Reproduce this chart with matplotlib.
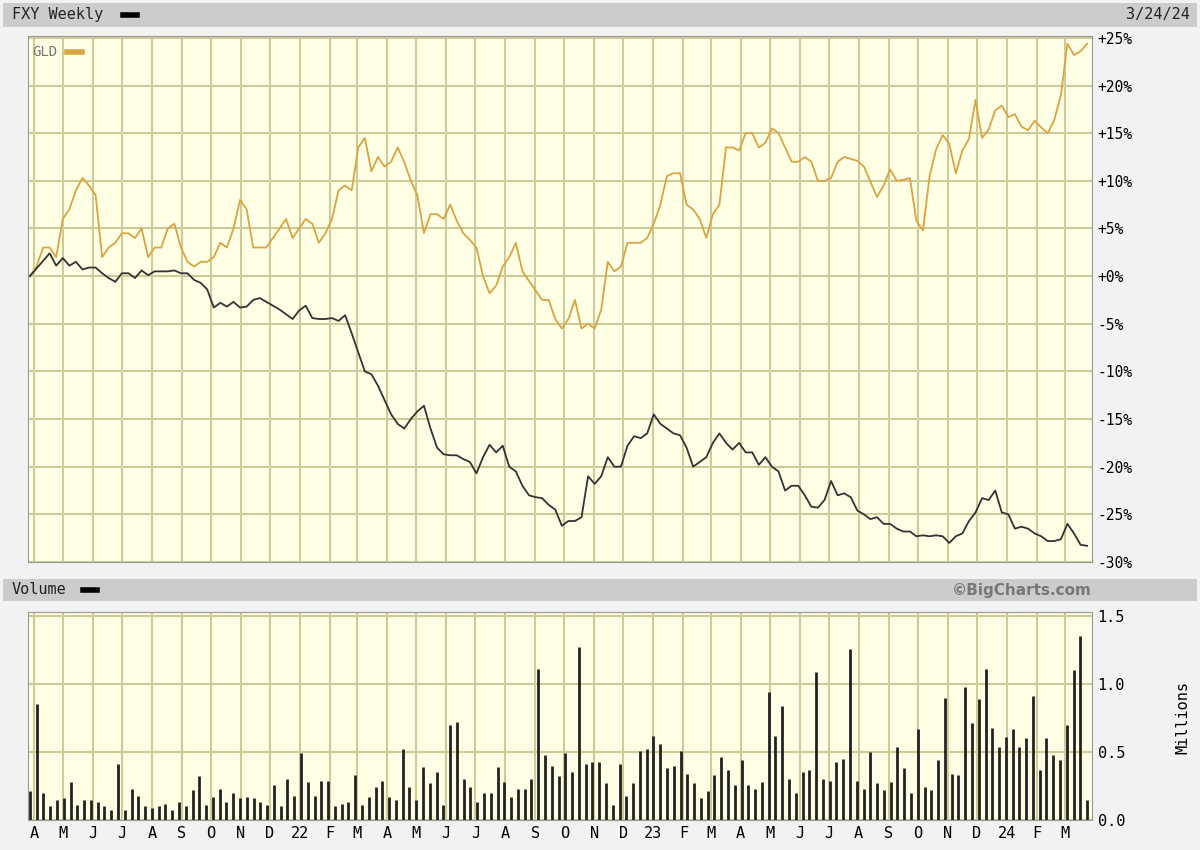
import matplotlib
matplotlib.use("Agg")
import matplotlib.pyplot as plt
import numpy as np
import pandas as pd

# weekly % change
gld = [0, 1, 3, 3, 2, 6, 7, 9, 10.3, 9.5,
       8.5, 2, 3, 3.5, 4.5, 4.5, 4, 5, 2, 3,
       3, 5, 5.5, 3, 1.5, 1, 1.5, 1.5, 2, 3.5,
       3, 5, 8, 7, 3, 3, 3, 4, 5, 6,
       4, 5, 6, 5.5, 3.5, 4.5, 6, 9, 9.5, 9,
       13.5, 14.5, 11, 12.5, 11.5, 12, 13.5, 12, 10, 8.5,
       4.5, 6.5, 6.5, 6, 7.5, 5.8, 4.5, 3.8, 3, 0,
       -1.8, -1, 1, 2, 3.5, 0.5, -0.5, -1.5, -2.5, -2.5,
       -4.5, -5.5, -4.5, -2.5, -5.5, -5, -5.5, -3.5, 1.5, 0.5,
       1, 3.5, 3.5, 3.5, 4, 5.5, 7.5, 10.5, 10.8, 10.8,
       7.5, 7, 6, 4, 6.5, 7.5, 13.5, 13.5, 13.2, 15,
       15, 13.5, 14, 15.5, 15, 13.5, 12, 12, 12.5, 12,
       10, 10, 10.3, 12, 12.5, 12.3, 12.1, 11.5, 9.9, 8.3,
       9.5, 11.2, 10, 10.1, 10.3, 5.8, 4.8, 10.5, 13.3, 14.8,
       13.9, 10.8, 13.2, 14.4, 18.5, 14.5, 15.4, 17.4, 17.9, 16.7,
       17, 15.7, 15.3, 16.3, 15.6, 15, 16.4, 19, 24.4, 23.2,
       23.6, 24.4]

fxy = [0, 0.8, 1.6, 2.4, 1.1, 1.9, 1.1, 1.5, 0.7, 0.9,
       0.9, 0.3, -0.2, -0.6, 0.3, 0.3, -0.2, 0.6, 0.1, 0.5,
       0.5, 0.5, 0.6, 0.3, 0.3, -0.4, -0.7, -1.4, -3.3, -2.8,
       -3.2, -2.7, -3.3, -3.2, -2.5, -2.3, -2.7, -3.1, -3.5, -4,
       -4.5, -3.6, -3.1, -4.4, -4.5, -4.5, -4.4, -4.7, -4.1, -6,
       -8, -10, -10.3, -11.5, -13, -14.5, -15.5, -16, -15, -14.2,
       -13.6, -16, -18, -18.7, -18.8, -18.8, -19.2, -19.5, -20.7, -19,
       -17.7, -18.5, -17.8, -20, -20.5, -22, -23, -23.2, -23.3, -24,
       -24.5, -26.2, -25.7, -25.7, -25.3, -21, -21.8, -21, -19, -20,
       -20, -17.8, -16.8, -17, -16.5, -14.5, -15.5, -16, -16.5, -16.7,
       -18, -20, -19.5, -19, -17.5, -16.5, -17.5, -18.2, -17.5, -18.5,
       -18.5, -19.8, -19, -20, -20.5, -22.5, -22, -22, -23, -24.2,
       -24.3, -23.5, -21.5, -23, -22.8, -23.2, -24.6, -25, -25.5, -25.3,
       -26, -26, -26.5, -26.8, -26.8, -27.3, -27.2, -27.3, -27.2, -27.3,
       -28, -27.3, -27, -25.7, -24.8, -23.3, -23.5, -22.5, -24.8, -25,
       -26.5, -26.3, -26.5, -27, -27.3, -27.8, -27.8, -27.6, -26, -27,
       -28.2, -28.3]

# weekly volume, millions
volume = [0.21, 0.85, 0.2, 0.1, 0.15, 0.16, 0.28, 0.11, 0.15, 0.15,
          0.13, 0.1, 0.07, 0.41, 0.07, 0.23, 0.18, 0.1, 0.09, 0.1,
          0.12, 0.07, 0.13, 0.1, 0.22, 0.32, 0.11, 0.17, 0.23, 0.13,
          0.2, 0.16, 0.17, 0.16, 0.13, 0.11, 0.26, 0.1, 0.3, 0.18,
          0.49, 0.28, 0.18, 0.29, 0.29, 0.1, 0.12, 0.13, 0.33, 0.11,
          0.17, 0.24, 0.29, 0.17, 0.15, 0.52, 0.24, 0.15, 0.39, 0.27,
          0.35, 0.11, 0.7, 0.72, 0.3, 0.24, 0.13, 0.2, 0.2, 0.39,
          0.28, 0.17, 0.23, 0.23, 0.3, 1.11, 0.48, 0.4, 0.32, 0.49,
          0.35, 1.27, 0.41, 0.43, 0.43, 0.27, 0.11, 0.41, 0.18, 0.27,
          0.51, 0.52, 0.62, 0.56, 0.38, 0.4, 0.51, 0.34, 0.27, 0.16,
          0.21, 0.33, 0.46, 0.37, 0.26, 0.44, 0.26, 0.23, 0.28, 0.94,
          0.62, 0.84, 0.3, 0.2, 0.35, 0.37, 1.09, 0.3, 0.29, 0.43,
          0.45, 1.26, 0.29, 0.23, 0.5, 0.27, 0.22, 0.28, 0.54, 0.38,
          0.2, 0.67, 0.24, 0.22, 0.44, 0.9, 0.34, 0.33, 0.98, 0.71,
          0.89, 1.11, 0.68, 0.54, 0.61, 0.67, 0.54, 0.6, 0.91, 0.37,
          0.6, 0.48, 0.44, 0.7, 1.1, 1.35, 0.15]

pct_ticks = [25, 20, 15, 10, 5, 0, -5, -10, -15, -20, -25, -30]
pct_labels = ["+25%", "+20%", "+15%", "+10%", "+5%", "+0%", "-5%", "-10%",
              "-15%", "-20%", "-25%", "-30%"]
vol_ticks = [0, 0.5, 1.0, 1.5]
vol_labels = ["0.0", "0.5", "1.0", "1.5"]

start, end = "2021-03-28", "2024-03-24"
d_gld = pd.date_range(start, end, periods=len(gld))
d_fxy = pd.date_range(start, end, periods=len(fxy))
d_vol = pd.date_range(start, end, periods=len(volume))

months = pd.date_range("2021-04-01", "2024-03-01", freq="MS")
month_labels = [("%02d" % (m.year % 100)) if m.month == 1 else m.strftime("%b")[0]
                for m in months]

bg = "#ffffe6"
gridc = "#cccc99"
gold = "#d9a441"
mono = "DejaVu Sans Mono"
W, H = 1200, 850

fig = plt.figure(figsize=(12, 8.5), dpi=100, facecolor="#f2f2f2")

def box(x0, y0, x1, y1):
    return [x0 / W, 1 - y1 / H, (x1 - x0) / W, (y1 - y0) / H]

# header strips
for y0, y1 in [(3, 27), (579, 601)]:
    ax_s = fig.add_axes(box(3, y0, 1197, y1))
    ax_s.set_facecolor("#cccccc")
    ax_s.set_xticks([]); ax_s.set_yticks([])
    for s in ax_s.spines.values():
        s.set_visible(False)
fig.text(12 / W, 1 - 15 / H, "FXY Weekly", fontsize=11, family=mono, va="center", color="#222222")
fig.text(1190 / W, 1 - 15 / H, "3/24/24", fontsize=11, family=mono, va="center", ha="right", color="#222222")
fig.add_artist(plt.Line2D([123 / W, 137 / W], [1 - 15 / H] * 2, color="black", lw=4))
fig.text(12 / W, 1 - 590 / H, "Volume", fontsize=11, family=mono, va="center", color="#222222")
fig.add_artist(plt.Line2D([83 / W, 97 / W], [1 - 590 / H] * 2, color="black", lw=4))
fig.text(1092 / W, 1 - 590 / H, "\u00a9BigCharts.com", fontsize=11, fontweight="bold",
         va="center", ha="right", color="#777777")

xlim = (pd.Timestamp("2021-03-26"), pd.Timestamp("2024-03-29"))

# price panel
ax = fig.add_axes(box(28, 36, 1092, 562))
ax.set_facecolor(bg)
ax.plot(d_gld, gld, color=gold, lw=1.3)
ax.plot(d_fxy, fxy, color="#333333", lw=1.3)
ax.set_ylim(-30, 25.2)
ax.set_xlim(*xlim)
ax.set_yticks(pct_ticks)
ax.set_yticklabels(pct_labels, family=mono, fontsize=10.5)
ax.yaxis.tick_right()
ax.set_xticks(months)
ax.tick_params(length=0, pad=4, labelbottom=False)
ax.grid(True, color=gridc, lw=1.5)
ax.set_axisbelow(True)
ax.text(0.004, 0.97, "GLD", transform=ax.transAxes, family=mono, fontsize=10,
        color="#777777", va="center")
ax.plot([0.037, 0.051], [0.97, 0.97], transform=ax.transAxes, color=gold, lw=4)

# volume panel
axv = fig.add_axes(box(28, 612, 1092, 820))
axv.set_facecolor(bg)
axv.vlines(d_vol, 0, volume, color="#222222", lw=2)
axv.set_ylim(0, 1.53)
axv.set_xlim(*xlim)
axv.set_yticks(vol_ticks)
axv.set_yticklabels(vol_labels, family=mono, fontsize=11)
axv.yaxis.tick_right()
axv.set_xticks(months)
axv.set_xticklabels(month_labels, family=mono, fontsize=11)
axv.tick_params(length=0, pad=4)
axv.grid(True, color=gridc, lw=1.5)
axv.set_axisbelow(True)
fig.text(1183 / W, 1 - 718 / H, "Millions", rotation=90, family=mono, fontsize=11,
         va="center", ha="center")

for a in (ax, axv):
    for s in a.spines.values():
        s.set_color("#999999")

fig.savefig("out.png", dpi=100, facecolor=fig.get_facecolor())
